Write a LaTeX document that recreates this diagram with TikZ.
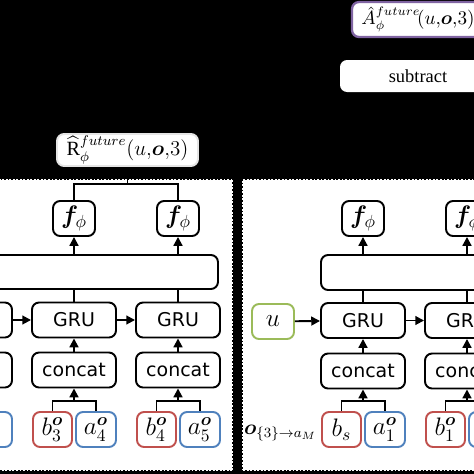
\documentclass[tikz,border=0pt]{standalone}
\usepackage{amsmath}
\usepackage{bm}
\usepackage{fontspec}
\setmainfont{Liberation Serif}
\newfontfamily\grufont{DejaVu Sans}
\usepackage{tikz}
\usetikzlibrary{arrows.meta}
\definecolor{tokred}{HTML}{C0504D}
\definecolor{tokblue}{HTML}{4F81BD}
\definecolor{tokgreen}{HTML}{9BBB59}
\definecolor{tokpurple}{HTML}{8064A2}
\tikzset{
box/.style={
  draw,
  rounded corners=4pt,
  line width=1.1pt,
  fill=white,
  inner sep=0pt,
  align=center
},
grubox/.style={box,minimum width=1.68cm,minimum height=0.7cm,font=\grufont\fontsize{10.8}{12}\selectfont},
fbox/.style={box,minimum width=0.84cm,minimum height=0.7cm,font=\Large},
tokb/.style={box,draw=tokred,minimum width=0.78cm,minimum height=0.7cm,font=\Large},
toka/.style={box,draw=tokblue,minimum width=0.8cm,minimum height=0.7cm,font=\Large},
hbox/.style={box,draw=gray!20,minimum height=0.64cm,font=\fontsize{11.5}{13}\selectfont},
link/.style={line width=1.1pt},
arr/.style={link,-{Triangle[length=5pt,width=5pt]}},
panel/.style={fill=white,draw=black,densely dotted,line width=1pt},
}

\begin{document}
\begin{tikzpicture}[x=0.02cm,y=-0.02cm]
\fill[black] (0,0) rectangle (474,474);
\useasboundingbox (0,0) rectangle (474,474);
\clip (0,0) rectangle (474,474);
% the panels
\draw[panel] (-10,179) rectangle (233,471);
\draw[panel] (242,179) rectangle (490,471);

% top boxes
\node[hbox,minimum width=2.82cm] (rhat) at (127.5,150) {$\widehat{\mathrm{R}}^{future}_{\phi}(u{,}\bm{o}{,}3)$};
\node[hbox,draw=none,minimum width=3.12cm,font=\fontsize{10.5}{12}\selectfont] (sub) at (418,76) {subtract};
\node[hbox,draw=tokpurple,line width=1.3pt,minimum width=2.64cm,minimum height=0.7cm,font=\fontsize{10.5}{12}\selectfont] (ahat) at (418,19.5) {$\hat{A}^{future}_{\phi}\!(u{,}\bm{o}{,}3)$};
\draw[arr] (sub) -- (ahat);

% left panel
\node[box,minimum width=5.96cm,minimum height=0.68cm] (lmid) at (69,272) {};
\node[grubox] (lgru0) at (-30,320) {};
\node[grubox] (lcat0) at (-30,370) {};
\node[toka] (la0) at (-8,429.5) {};
\foreach \c/\x/\b/\a in {1/74/3/4,2/178/4/5}
{
  \node[grubox] (lgru\c) at (\x,320) {GRU};
  \node[grubox] (lcat\c) at (\x,370) {concat};
  \node[fbox] (lf\c) at (\x,218.5) {$\bm{f}_{\phi}$};
  \node[tokb] (lb\c) at (\x-21.5,429.5) {$b^{\bm{o}}_{\b}$};
  \node[toka] (la\c) at (\x+22,429.5) {$a^{\bm{o}}_{\a}$};
  \coordinate (lj\c) at (\x,401);
  \draw[link] (lb\c.north) |- (lj\c) -| (la\c.north);
  \draw[arr] (lj\c) -- (lcat\c.south);
  \draw[arr] (lcat\c) -- (lgru\c);
  \draw[link] (lgru\c.north) -- (lgru\c.north |- lmid.south);
  \draw[arr] (lmid.north -| lf\c) -- (lf\c.south);
}
\draw[arr] (lgru0) -- (lgru1);
\draw[arr] (lgru1) -- (lgru2);
% join to the estimate
\coordinate (ltop) at (127.5,184);
\draw[link] (lf1.north) |- (ltop) -| (lf2.north);
\draw[link] (ltop) -- (rhat.south);

% right panel
\node[box,minimum width=4.18cm,minimum height=0.7cm] (rmid) at (425.5,272.5) {};
\node[box,draw=tokgreen,minimum width=0.84cm,minimum height=0.7cm,font=\Large] (uin) at (273,321.5) {$u$};
\node[font=\large] (olab) at (280.5,433) {$\bm{o}_{\{3\}\to a_M}$};
\foreach \c/\x/\b/\a in {1/363/$b_s$/$a^{\bm{o}}_1$,2/467/$b^{\bm{o}}_1$/}
{
  \node[grubox] (rgru\c) at (\x,320.5) {GRU};
  \node[grubox] (rcat\c) at (\x,371) {concat};
  \node[fbox] (rf\c) at (\x,218.5) {$\bm{f}_{\phi}$};
  \node[tokb] (rb\c) at (\x-21.5,429.5) {\b};
  \node[toka] (ra\c) at (\x+22,429.5) {\a};
  \coordinate (rj\c) at (\x,401);
  \draw[link] (rb\c.north) |- (rj\c) -| (ra\c.north);
  \draw[arr] (rj\c) -- (rcat\c.south);
  \draw[arr] (rcat\c) -- (rgru\c);
  \draw[link] (rgru\c.north) -- (rgru\c.north |- rmid.south);
  \draw[arr] (rmid.north -| rf\c) -- (rf\c.south);
}
\draw[arr] (uin) -- (rgru1);
\draw[arr] (rgru1) -- (rgru2);
\end{tikzpicture}
\end{document}
